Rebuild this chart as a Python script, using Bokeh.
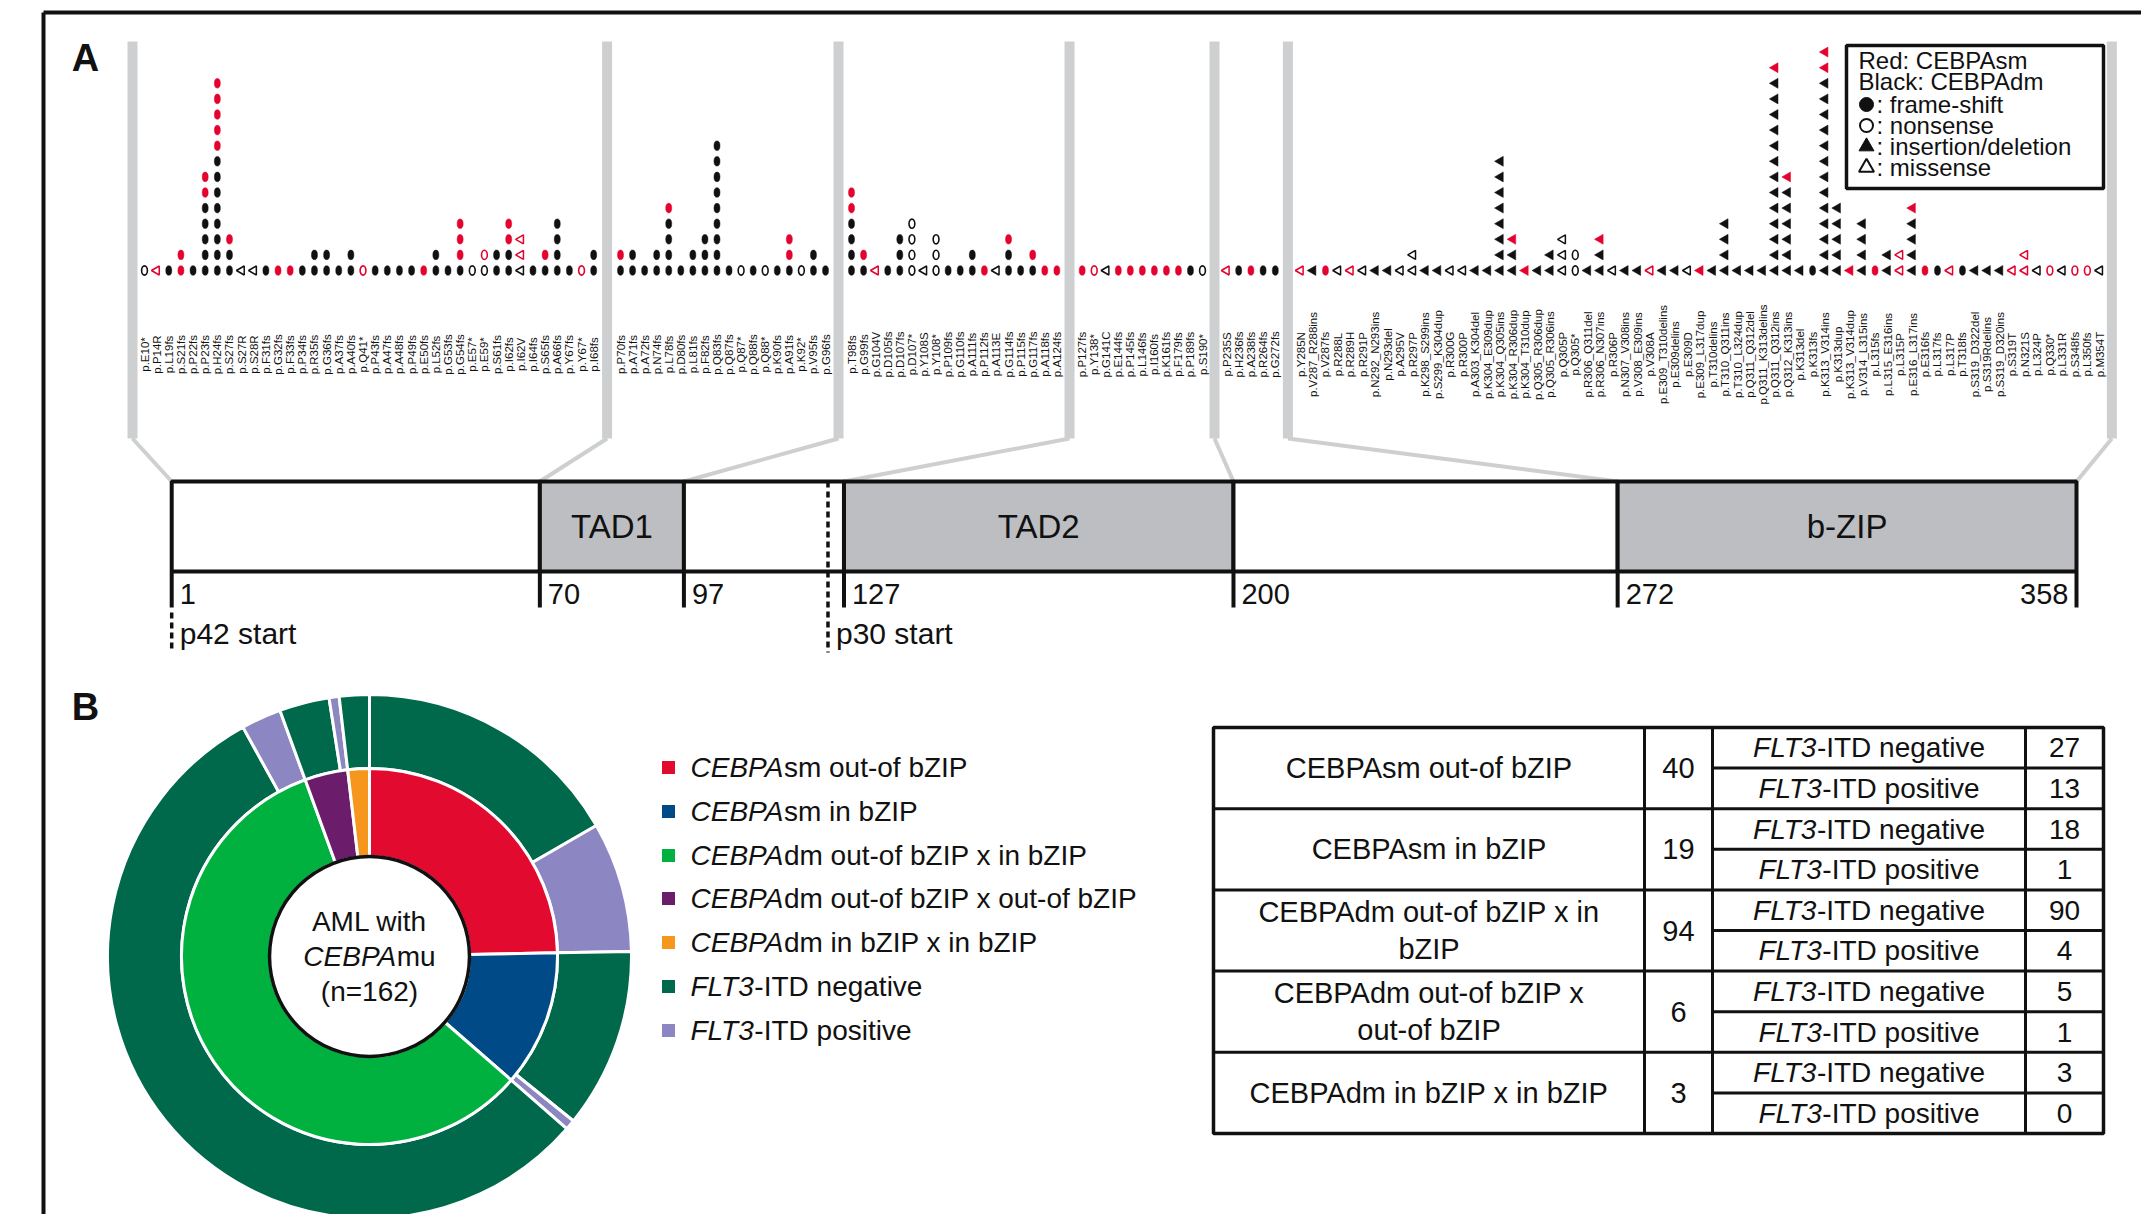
import math
from bokeh.plotting import figure
from bokeh.models import Range1d
from bokeh.core.properties import value
from bokeh.embed import file_html
from bokeh.resources import INLINE

W, H = 2141, 1214
FONT = "Liberation Sans"
RED = "#e4032e"
BLACK = "#111111"
GREY_BAR = "#cdcfd0"
GREY_DOMAIN = "#bdbec1"

# ---------------- Panel A: CEBPA mutations by protein region ----------------
# stack codes, bottom to top: F frame-shift, O nonsense, T insertion/deletion, M missense;
# r = CEBPAsm (red), k = CEBPAdm (black); a leading number repeats the mark
nterm_labels = ["p.E10*", "p.P14R", "p.L19fs", "p.S21fs", "p.P22fs", "p.P23fs", "p.H24fs",
                "p.S27fs", "p.S27R", "p.S28R", "p.F31fs", "p.G32fs", "p.F33fs", "p.P34fs",
                "p.R35fs", "p.G36fs", "p.A37fs", "p.A40fs", "p.Q41*", "p.P43fs", "p.A47fs",
                "p.A48fs", "p.P49fs", "p.E50fs", "p.L52fs", "p.G53fs", "p.G54fs", "p.E57*",
                "p.E59*", "p.S61fs", "p.I62fs", "p.I62V", "p.I64fs", "p.S65fs", "p.A66fs",
                "p.Y67fs", "p.Y67*", "p.I68fs"]
nterm_stacks = ["Ok", "Mr", "Fk", "2Fr", "Fk", "5Fk 2Fr", "8Fk 5Fr",
                "2Fk Fr", "Mk", "Mk", "Fk", "Fr", "Fr", "Fk",
                "2Fk", "2Fk", "Fk", "2Fk", "Or", "Fk", "Fk",
                "Fk", "Fk", "Fr", "2Fk", "Fk", "Fk 3Fr", "Ok",
                "Ok Or", "2Fk", "2Fk 2Fr", "Mk 2Mr", "Fk", "Fk Fr", "4Fk",
                "Fk", "Or", "2Fk"]

tad1_labels = ["p.P70fs", "p.A71fs", "p.A72fs", "p.N74fs", "p.L78fs", "p.D80fs", "p.L81fs",
               "p.F82fs", "p.Q83fs", "p.Q87fs", "p.Q87*", "p.Q88fs", "p.Q88*", "p.K90fs",
               "p.A91fs", "p.K92*", "p.V95fs", "p.G96fs"]
tad1_stacks = ["Fk Fr", "2Fk", "Fk", "2Fk", "4Fk Fr", "Fk", "2Fk",
               "3Fk", "9Fk", "Fk", "Ok", "Fk", "Ok", "Fk",
               "Fk 2Fr", "Ok", "2Fk", "Fk"]

mid_labels = ["p.T98fs", "p.G99fs", "p.G104V", "p.D105fs", "p.D107fs", "p.D107*", "p.Y108S",
              "p.Y108*", "p.P109fs", "p.G110fs", "p.A111fs", "p.P112fs", "p.A113E",
              "p.G114fs", "p.P115fs", "p.G117fs", "p.A118fs", "p.A124fs"]
mid_stacks = ["4Fk 2Fr", "Fk Fr", "Mr", "Fk", "3Fk", "4Ok", "Mk",
              "3Ok", "Fk", "Fk", "2Fk", "Fr", "Mk",
              "2Fk Fr", "Fk", "Fk Fr", "Fr", "Fr"]

tad2_labels = ["p.P127fs", "p.Y138*", "p.G141C", "p.E144fs", "p.P145fs", "p.L146fs",
               "p.I160fs", "p.K161fs", "p.F179fs", "p.P189fs", "p.S190*"]
tad2_stacks = ["Fr", "Or", "Mk", "Fr", "Fr", "Fr", "Fr", "Fr", "Fr", "Fk", "Ok"]

hinge_labels = ["p.P235S", "p.H236fs", "p.A238fs", "p.R264fs", "p.G272fs"]
hinge_stacks = ["Mr", "Fk", "Fr", "Fk", "Fk"]

bzip_labels = ["p.Y285N", "p.V287_R288ins", "p.V287fs", "p.R288L", "p.R289H", "p.R291P",
               "p.N292_N293ins", "p.N293del", "p.A295V", "p.R297P", "p.K298_S299ins",
               "p.S299_K304dup", "p.R300G", "p.R300P", "p.A303_K304del", "p.K304_E309dup",
               "p.K304_Q305ins", "p.K304_R306dup", "p.K304_T310dup", "p.Q305_R306dup",
               "p.Q305_R306ins", "p.Q305P", "p.Q305*", "p.R306_Q311del", "p.R306_N307ins",
               "p.R306P", "p.N307_V308ins", "p.V308_E309ins", "p.V308A", "p.E309_T310delins",
               "p.E309delins", "p.E309D", "p.E309_L317dup", "p.T310delins", "p.T310_Q311ins",
               "p.T310_L324dup", "p.Q311_Q312del", "p.Q311_K313delins", "p.Q311_Q312ins",
               "p.Q312_K313ins", "p.K313del", "p.K313fs", "p.K313_V314ins", "p.K313dup",
               "p.K313_V314dup", "p.V314_L315ins", "p.L315fs", "p.L315_E316ins", "p.L315P",
               "p.E316_L317ins", "p.E316fs", "p.L317fs", "p.L317P", "p.T318fs",
               "p.S319_D322del", "p.S319Rdelins", "p.S319_D320ins", "p.S319T", "p.N321S",
               "p.L324P", "p.Q330*", "p.L331R", "p.S348fs", "p.L350fs", "p.M354T"]
bzip_stacks = ["Mr", "Tk", "Fr", "Mk", "Mr", "Mk",
               "Tk", "Tk", "Mk", "2Mk", "Tk",
               "Tk", "Mk", "Mk", "Tk", "Tk",
               "8Tk", "2Tk Tr", "Tr", "Tk",
               "2Tk", "3Mk", "2Ok", "Tk", "2Tk Tr",
               "Mk", "Tk", "Tk", "Mr", "Tk",
               "Tk", "Mk", "Tr", "Tk", "4Tk",
               "Tk", "Tk", "Tk", "13Tk Tr",
               "6Tk Tr", "Tk", "Fk", "13Tk 2Tr", "5Tk",
               "Tr", "4Tk", "Fr", "2Tk", "2Mr",
               "4Tk Tr", "Fr", "Fk", "Mr", "Fk",
               "Tk", "Tk", "Tk", "Mr", "2Mr",
               "Mk", "Or", "Mk", "Or", "Or", "Mk"]

# protein domain map (amino-acid positions)
domain_edges = [1, 70, 97, 127, 200, 272, 358]
domain_names = ["", "TAD1", "", "TAD2", "", "b-ZIP"]
p42_start, p30_start = 1, 124

# ---------------- Panel B: patient groups ----------------
group_names = ["CEBPAsm out-of bZIP", "CEBPAsm in bZIP", "CEBPAdm out-of bZIP x in bZIP",
               "CEBPAdm out-of bZIP x out-of bZIP", "CEBPAdm in bZIP x in bZIP"]
group_n = [40, 19, 94, 6, 3]
flt3_neg = [27, 18, 90, 5, 3]
flt3_pos = [13, 1, 4, 1, 0]
table_rows = [["CEBPAsm out-of bZIP"], ["CEBPAsm in bZIP"], ["CEBPAdm out-of bZIP x in", "bZIP"],
              ["CEBPAdm out-of bZIP x", "out-of bZIP"], ["CEBPAdm in bZIP x in bZIP"]]
group_colors = ["#e30a2f", "#004b87", "#00b140", "#6b1d6b", "#f7961d"]
NEG_COL, POS_COL = "#00694b", "#8c87c2"

# ------------------------------------------------------------------
p = figure(width=W, height=H, x_range=Range1d(0, W), y_range=Range1d(0, H),
           output_backend="svg", toolbar_location=None, min_border=0,
           x_axis_type=None, y_axis_type=None)
p.grid.visible = False
p.outline_line_color = None
p.background_fill_color = "white"
p.border_fill_color = "white"


def Y(v):
    """layout is measured from the top edge"""
    return H - v


AFM = {"A": .667, "B": .667, "C": .722, "D": .722, "E": .667, "F": .611, "I": .278, "L": .556,
       "M": .833, "P": .667, "T": .611, "Z": .611, "a": .556, "b": .556, "d": .556, "e": .556,
       "f": .278, "g": .556, "h": .556, "i": .222, "l": .222, "m": .833, "n": .556, "o": .556,
       "p": .556, "r": .333, "s": .5, "t": .278, "u": .556, "v": .5, "w": .722, "x": .5,
       " ": .278, "-": .333, "(": .333, ")": .333, "=": .584}


def text_w(s, size):
    return sum(AFM.get(c, .556) for c in s) * size


def txt(x, y, s, size, align="left", style="normal", angle=0.0):
    p.text(x=[x], y=[Y(y)], text=[s], text_font=value(FONT), text_font_size=f"{size}px",
           text_font_style=style, text_align=align, text_baseline="middle", angle=angle,
           text_color=BLACK)


def mixed(x, y, lead, rest, size, align="left"):
    """italic gene symbol followed by plain text"""
    wl, wr = text_w(lead, size) - 1.5, text_w(rest, size)
    x0 = x - (wl + wr) / 2 if align == "center" else x
    txt(x0, y, lead, size, style="italic")
    txt(x0 + wl, y, rest, size)


# frame
p.segment(x0=[43, 43], y0=[Y(12), Y(12)], x1=[W, 43], y1=[Y(12), 0],
          line_color=BLACK, line_width=4)

# region layout: labels, stacks, first column x, column pitch
regions = [(nterm_labels, nterm_stacks, 144.0, 12.14),
           (tad1_labels, tad1_stacks, 620.0, 12.06),
           (mid_labels, mid_stacks, 851.0, 12.08),
           (tad2_labels, tad2_stacks, 1081.7, 12.03),
           (hinge_labels, hinge_stacks, 1226.0, 12.2),
           (bzip_labels, bzip_stacks, 1300.0, 12.49)]

BASE_Y, STEP_Y, LABEL_MID = 270.0, 15.6, 354.0
BAR_TOP, BAR_BOT = 41.0, 438.0
DOM_TOP, DOM_BOT, TICK_BOT = 481.0, 571.0, 607.0


def aa_x(aa):
    return 171.2 + (aa - 1) * (2076.0 - 171.2) / 357.0


def parse(stack):
    marks = []
    for tok in stack.split():
        n = int(tok[:-2]) if len(tok) > 2 else 1
        marks += [tok[-2:]] * n
    return marks


# separator bars between regions
spans = [(x0, x0 + (len(lab) - 1) * st) for lab, _, x0, st in regions]
bar_x = [spans[0][0] - 12]
for (a0, a1), (b0, b1) in zip(spans[:-1], spans[1:]):
    bar_x.append((a1 + b0) / 2)
bar_x.append(spans[-1][1] + 12)
p.quad(left=[b - 5 for b in bar_x], right=[b + 5 for b in bar_x],
       top=[Y(BAR_TOP)] * len(bar_x), bottom=[Y(BAR_BOT)] * len(bar_x),
       fill_color=GREY_BAR, line_color=None)
p.segment(x0=bar_x, y0=[Y(BAR_BOT)] * len(bar_x), x1=[aa_x(e) for e in domain_edges],
          y1=[Y(DOM_TOP)] * len(bar_x), line_color=GREY_BAR, line_width=4)

# mutation marks and labels
ell_f = {"x": [], "y": [], "c": []}
ell_o = {"x": [], "y": [], "c": []}
tri_f = {"x": [], "y": [], "c": []}
tri_o = {"x": [], "y": [], "c": []}
lab_x, lab_t = [], []
for labels, stacks, x0, st in regions:
    for i, (lab, stack) in enumerate(zip(labels, stacks)):
        x = x0 + i * st
        lab_x.append(x)
        lab_t.append(lab)
        for j, code in enumerate(parse(stack)):
            y = Y(BASE_Y - j * STEP_Y)
            col = RED if code[1] == "r" else BLACK
            tgt = {"F": ell_f, "O": ell_o, "T": tri_f, "M": tri_o}[code[0]]
            tgt["x"].append(x)
            tgt["y"].append(y)
            tgt["c"].append(col)

p.ellipse(x=ell_f["x"], y=ell_f["y"], width=6.0, height=9.6, fill_color=ell_f["c"],
          line_color=ell_f["c"], line_width=0.5)
p.ellipse(x=ell_o["x"], y=ell_o["y"], width=5.8, height=9.2, fill_color="white",
          line_color=ell_o["c"], line_width=1.6)
p.scatter(x=tri_f["x"], y=tri_f["y"], marker="triangle", size=10, angle=math.pi / 2,
          fill_color=tri_f["c"], line_color=tri_f["c"], line_width=0.5)
p.scatter(x=tri_o["x"], y=tri_o["y"], marker="triangle", size=9, angle=math.pi / 2,
          fill_color="white", line_color=tri_o["c"], line_width=1.5)
p.text(x=lab_x, y=[Y(LABEL_MID)] * len(lab_x), text=lab_t, text_font=value(FONT),
       text_font_size="11.5px", text_align="center", text_baseline="middle",
       angle=math.pi / 2, text_color=BLACK)

# domain map
fills = ["white", GREY_DOMAIN, "white", GREY_DOMAIN, "white", GREY_DOMAIN]
p.quad(left=[aa_x(a) for a in domain_edges[:-1]], right=[aa_x(b) for b in domain_edges[1:]],
       top=[Y(DOM_TOP)] * 6, bottom=[Y(DOM_BOT)] * 6, fill_color=fills,
       line_color=BLACK, line_width=4)
for a, b, name in zip(domain_edges[:-1], domain_edges[1:], domain_names):
    if name:
        txt((aa_x(a) + aa_x(b)) / 2, (DOM_TOP + DOM_BOT) / 2, name, 33, align="center")
p.segment(x0=[aa_x(e) for e in domain_edges], y0=[Y(DOM_BOT)] * 7,
          x1=[aa_x(e) for e in domain_edges], y1=[Y(TICK_BOT)] * 7,
          line_color=BLACK, line_width=4)
for e in domain_edges:
    if e == domain_edges[-1]:
        txt(aa_x(e) - 8, 593, str(e), 29, align="right")
    else:
        txt(aa_x(e) + 8, 593, str(e), 29)
p.segment(x0=[aa_x(p42_start), aa_x(p30_start)], y0=[Y(612), Y(DOM_TOP)],
          x1=[aa_x(p42_start), aa_x(p30_start)], y1=[Y(652), Y(652)],
          line_color=BLACK, line_width=3.5, line_dash="6 4")
txt(aa_x(p42_start) + 8, 633, "p42 start", 30)
txt(aa_x(p30_start) + 8, 633, "p30 start", 30)

# key box
p.quad(left=[1846], right=[2103], top=[Y(45)], bottom=[Y(188)], fill_color="white",
       line_color=BLACK, line_width=3.5)
txt(1858, 60, "Red: CEBPAsm", 24)
txt(1858, 81, "Black: CEBPAdm", 24)
key_y = [104, 125, 146, 167]
p.scatter(x=[1866], y=[Y(key_y[0])], marker="circle", size=14, fill_color=BLACK, line_color=BLACK)
p.scatter(x=[1866], y=[Y(key_y[1])], marker="circle", size=13, fill_color="white",
          line_color=BLACK, line_width=2)
p.scatter(x=[1866], y=[Y(key_y[2])], marker="triangle", size=15, fill_color=BLACK, line_color=BLACK)
p.scatter(x=[1866], y=[Y(key_y[3])], marker="triangle", size=15, fill_color="white",
          line_color=BLACK, line_width=2)
for yy, s in zip(key_y, [": frame-shift", ": nonsense", ": insertion/deletion", ": missense"]):
    txt(1876, yy, s, 24)

# panel letters
txt(85, 57, "A", 38, align="center", style="bold")
txt(85, 706, "B", 38, align="center", style="bold")

# ---------------- donut ----------------
CX, CY = 369.0, 956.0
R0, R1, R2 = 100.0, 188.0, 262.0
total = sum(group_n)
in_s, in_e, out_s, out_e, out_c = [], [], [], [], []
acc = 0
for n, neg, pos in zip(group_n, flt3_neg, flt3_pos):
    a0, a1 = acc / total * 360, (acc + n) / total * 360
    in_s.append(math.radians(90 - a1))
    in_e.append(math.radians(90 - a0))
    sub = acc
    for k, col in ((neg, NEG_COL), (pos, POS_COL)):
        if k:
            b0, b1 = sub / total * 360, (sub + k) / total * 360
            out_s.append(math.radians(90 - b1))
            out_e.append(math.radians(90 - b0))
            out_c.append(col)
            sub += k
    acc += n
p.annular_wedge(x=[CX] * len(out_s), y=[Y(CY)] * len(out_s), inner_radius=R1, outer_radius=R2,
                start_angle=out_s, end_angle=out_e, fill_color=out_c, line_color="white",
                line_width=3)
p.annular_wedge(x=[CX] * 5, y=[Y(CY)] * 5, inner_radius=R0, outer_radius=R1,
                start_angle=in_s, end_angle=in_e, fill_color=group_colors, line_color="white",
                line_width=3)
p.circle(x=[CX], y=[Y(CY)], radius=R0, fill_color="white", line_color=BLACK, line_width=3.5)
txt(CX, 921, "AML with", 28, align="center")
mixed(CX, 956, "CEBPA", "mu", 28, align="center")
txt(CX, 991, f"(n={total})", 28, align="center")

# donut key
leg_y = [767, 811, 855, 898, 942, 986, 1030]
leg_items = [(g[:5], g[5:]) for g in group_names] + [("FLT3", "-ITD negative"), ("FLT3", "-ITD positive")]
leg_cols = group_colors + [NEG_COL, POS_COL]
p.scatter(x=[668] * 7, y=[Y(v) for v in leg_y], marker="square", size=13,
          fill_color=leg_cols, line_color=None)
for yy, (lead, rest) in zip(leg_y, leg_items):
    mixed(690, yy, lead, rest, 28)

# ---------------- table ----------------
TX = [1213.0, 1644.0, 1712.0, 2025.0, 2103.0]
TT, GH = 727.0, 81.2
TB = TT + GH * len(group_n)
p.quad(left=[TX[0]], right=[TX[-1]], top=[Y(TT)], bottom=[Y(TB)], fill_color=None,
       line_color=BLACK, line_width=3.5)
p.segment(x0=TX[1:4], y0=[Y(TT)] * 3, x1=TX[1:4], y1=[Y(TB)] * 3, line_color=BLACK, line_width=3)
gl = [TT + k * GH for k in range(1, len(group_n))]
p.segment(x0=[TX[0]] * len(gl), y0=[Y(v) for v in gl], x1=[TX[-1]] * len(gl),
          y1=[Y(v) for v in gl], line_color=BLACK, line_width=3)
sl = [TT + (k + 0.5) * GH for k in range(len(group_n))]
p.segment(x0=[TX[2]] * len(sl), y0=[Y(v) for v in sl], x1=[TX[-1]] * len(sl),
          y1=[Y(v) for v in sl], line_color=BLACK, line_width=3)
for k, (lines, n, neg, pos) in enumerate(zip(table_rows, group_n, flt3_neg, flt3_pos)):
    gc = TT + (k + 0.5) * GH
    offs = [0.0] if len(lines) == 1 else [-18.5, 18.5]
    for ln, dy in zip(lines, offs):
        txt((TX[0] + TX[1]) / 2, gc + dy, ln, 29, align="center")
    txt((TX[1] + TX[2]) / 2, gc, str(n), 29, align="center")
    for dy, lab, v in ((-GH / 4, "-ITD negative", neg), (GH / 4, "-ITD positive", pos)):
        mixed((TX[2] + TX[3]) / 2, gc + dy, "FLT3", lab, 28, align="center")
        txt((TX[3] + TX[4]) / 2, gc + dy, str(v), 28, align="center")

open("out.html", "w").write(file_html(p, INLINE))
